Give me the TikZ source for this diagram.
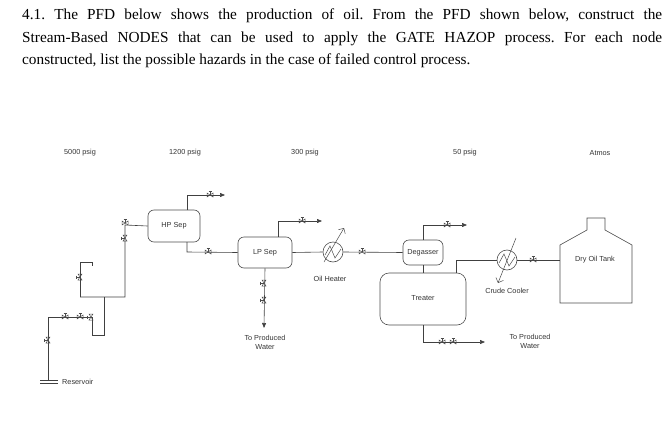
\documentclass[tikz,border=0pt]{standalone}
\usepackage{fontspec}
\setmainfont{Liberation Serif}
\newfontfamily\lab{Liberation Sans}
\usetikzlibrary{arrows.meta}
\frenchspacing
\begin{document}
\begin{tikzpicture}[x=1pt,y=-1pt,
  pipe/.style={draw=black!75,line width=0.6pt},
  flow/.style={pipe,-{Triangle[length=5pt,width=4pt]}},
  vessel/.style={draw=black!70,line width=0.6pt,rounded corners=6pt,inner sep=0pt},
  lbl/.style={font=\lab\fontsize{7.3}{9}\selectfont,text=black!80,inner sep=0pt,align=center},
  hv/.pic={\draw[black!70,line width=0.5pt] (-3,-2)--(3,2)--(3,-2)--(-3,2)--cycle; \draw[black!70,line width=0.5pt](0,0)--(0,-4) (-1.5,-4)--(1.5,-4);},
  vv/.pic={\draw[black!70,line width=0.5pt] (-2,-3)--(2,3)--(-2,3)--(2,-3)--cycle; \draw[black!70,line width=0.5pt](0,0)--(-4,0) (-4,-1.5)--(-4,1.5);}
]
\useasboundingbox (0,0) rectangle (670,434);
\node[anchor=north west,text width=640pt,align=justify,inner sep=0pt,font=\fontsize{15.3}{22.5}\selectfont] (q) at (22,9)
{4.1. The PFD below shows the production of oil. From the PFD shown below, construct the\linebreak Stream-Based NODES that can be used to apply the GATE HAZOP process. For each node\linebreak constructed, list the possible hazards in the case of failed control process.};
% pressures
\foreach \x/\t [count=\i] in {80/5000 psig,185/1200 psig,305/300 psig,465/50 psig,600/Atmos}
  \node[lbl] (p\i) at (\x,153) {\t};
% vessels
\node[vessel,minimum width=52pt,minimum height=32pt] (hp) at (174,226) {};
\node[lbl] at (hp) {HP Sep};
\node[vessel,minimum width=54pt,minimum height=31pt] (lp) at (265,252.5) {};
\node[lbl] at (lp) {LP Sep};
\node[vessel,minimum width=40pt,minimum height=25pt] (dg) at (423,252.5) {};
\node[lbl] at (dg) {Degasser};
\node[vessel,rounded corners=9pt,minimum width=86pt,minimum height=52pt] (tr) at (423,299) {};
\node[lbl] at (423,298) {Treater};
\node[draw=black!70,line width=0.6pt,circle,minimum size=20pt,inner sep=0pt] (oh) at (333,252) {};
\node[draw=black!70,line width=0.6pt,circle,minimum size=20pt,inner sep=0pt] (cc) at (507,260) {};
\draw[black!70,line width=0.5pt] (325,255)--(330,246)--(335,258)--(341,249);
\draw[black!70,line width=0.5pt] (499,263)--(504,254)--(509,266)--(515,257);
\draw[black!70,line width=0.5pt,-{Straight Barb[length=4pt]}] (324,262)--(344,228);
\draw[black!70,line width=0.5pt,-{Straight Barb[length=4pt]}] (516,238)--(498,283);
\node[lbl] (ohl) at (330,279) {Oil Heater};
\node[lbl] (ccl) at (507,291) {Crude Cooler};
% tank
\draw[black!70,line width=0.6pt] (560,303)--(560,245)--(587,230)--(587,218)--(605,218)--(605,230)--(632,245)--(632,303)--cycle;
\coordinate (tk) at (560,260);
\node[lbl] at (595,260) {Dry Oil Tank};
% reservoir
\draw[black!75,line width=0.6pt] (40,380)--(58,380) (40,383.5)--(58,383.5);
\node[lbl,anchor=west] (res) at (62,381.5) {Reservoir};
% reservoir piping
\draw[pipe] (48,380)--(48,317)--(92,317)--(92,335)--(104,335)--(104,297);
\draw[pipe] (80,297)--(125,297)--(125,225)--(hp.west);
\draw[pipe] (80,297)--(80,262)--(92,262)--(92,266);
\pic at (48,340) {vv}; \pic at (65,317) {hv}; \pic at (80,317) {hv}; \pic at (91,317) {vv};
\pic at (80,277) {vv}; \pic at (125,238) {vv}; \pic at (125,223) {hv};
% HP outlets
\coordinate (a1) at (225,195);
\draw[flow] (187,210)--(187,195)--(a1); \pic at (210,195) {hv};
\draw[pipe] (187,242)--(187,252)--(lp.west); \pic at (208,252) {hv};
% LP outlets
\coordinate (a2) at (322,221);
\draw[flow] (278,237)--(278,221)--(a2); \pic at (302,221) {hv};
\coordinate (w1) at (264,328);
\draw[flow] (lp.south)--(w1); \pic at (264,283) {vv}; \pic at (264,300) {vv};
\node[lbl] (w1l) at (265,342) {To Produced\\Water};
\draw[pipe] (lp.east)--(oh.west);
\draw[pipe] (oh.east)--(dg.west); \pic at (362,252) {hv};
% degasser
\coordinate (a3) at (467,225);
\draw[flow] (dg.north)--(423,225)--(a3); \pic at (447,225) {hv};
\draw[pipe] (dg.south)--(tr.north);
\draw[pipe] (456,273)--(456,260)--(cc.west);
\draw[pipe] (cc.east)--(tk); \pic at (533,260) {hv};
\coordinate (w2) at (485,342);
\draw[flow] (tr.south)--(423,342)--(w2); \pic at (442,342) {hv}; \pic at (453,342) {hv};
\node[lbl] (w2l) at (530,341) {To Produced\\Water};
\end{tikzpicture}
\end{document}
